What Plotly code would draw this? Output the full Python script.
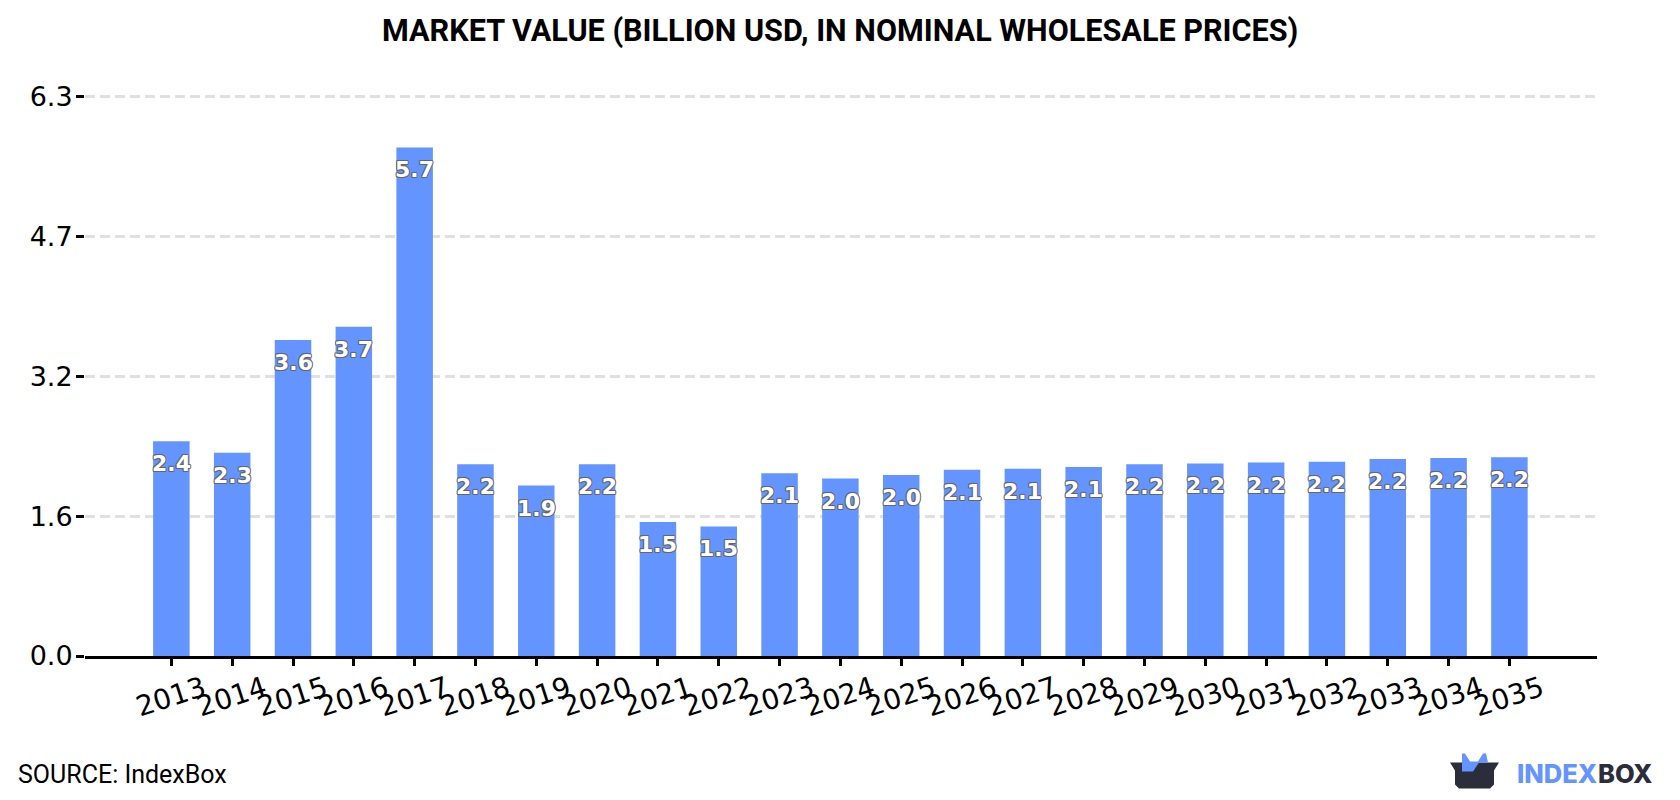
import plotly.graph_objects as go

# Market value series, billion USD
years = [2013, 2014, 2015, 2016, 2017, 2018, 2019, 2020, 2021, 2022, 2023, 2024,
         2025, 2026, 2027, 2028, 2029, 2030, 2031, 2032, 2033, 2034, 2035]
values = [2.42, 2.29, 3.56, 3.71, 5.73, 2.16, 1.92, 2.16, 1.51, 1.46, 2.06, 2.00,
          2.04, 2.10, 2.11, 2.13, 2.16, 2.17, 2.18, 2.19, 2.22, 2.23, 2.24]
y_tick_values = [0, 1.575, 3.15, 4.725, 6.3]
y_tick_labels = ["0.0", "1.6", "3.2", "4.7", "6.3"]

TITLE = "MARKET VALUE (BILLION USD, IN NOMINAL WHOLESALE PRICES)"
SOURCE = "SOURCE: IndexBox"
BLUE = "#6394ff"
DARK = "#2b2d3a"

W, H = 1680, 800
Y_MAX = 6.4
LEFT, RIGHT, BOTTOM = 85, 1597, 656.4
TOP = BOTTOM - Y_MAX * 560 / 6.3


def px(x):
    return (x - LEFT) / (RIGHT - LEFT)


def py(y):
    return (BOTTOM - y) / (BOTTOM - TOP)


def path(points):
    return "M " + " L ".join(f"{px(x):.5f},{py(y):.5f}" for x, y in points) + " Z"


fig = go.Figure(
    go.Bar(x=years, y=values, width=0.6, marker=dict(color=BLUE, line=dict(width=0)), hoverinfo="skip")
)

# Value labels sit just inside the top of each bar, white with a grey outline
outline = ("1px 0 #666, -1px 0 #666, 0 1px #666, 0 -1px #666, "
           "0.7px 0.7px #666, -0.7px -0.7px #666, 0.7px -0.7px #666, -0.7px 0.7px #666")
annotations = [
    dict(
        x=yr, y=v, xref="x", yref="y", text=f"{v:.1f}", showarrow=False,
        yanchor="middle", yshift=-22.5,
        font=dict(family="DejaVu Sans", size=22, color="white", weight="bold", shadow=outline),
    )
    for yr, v in zip(years, values)
]

annotations += [
    dict(xref="paper", yref="paper", x=px(840), y=py(30), text=TITLE, showarrow=False,
         xanchor="center", yanchor="middle",
         font=dict(family="Roboto", size=30.6, color="black", weight="bold")),
    dict(xref="paper", yref="paper", x=px(16), y=py(775), text=SOURCE, showarrow=False,
         xanchor="left", yanchor="middle",
         font=dict(family="Roboto", size=25, color="black")),
    dict(xref="paper", yref="paper", x=px(1515), y=py(774), text="INDEX", showarrow=False,
         xanchor="left", yanchor="middle",
         font=dict(family="Inter", size=25.5, color=BLUE, weight=800)),
    dict(xref="paper", yref="paper", x=px(1596), y=py(774), text="BOX", showarrow=False,
         xanchor="left", yanchor="middle",
         font=dict(family="Inter", size=25.5, color=DARK, weight=800)),
]

# Box-shaped logo mark beside the wordmark
box = [(1450, 763), (1499, 763), (1494, 771), (1494, 785), (1490, 789), (1459, 789), (1455, 785), (1455, 771)]
ears = [(1462, 772), (1462, 754), (1465, 754), (1470, 762), (1478, 762), (1483, 754), (1486, 754), (1488, 763), (1479, 763), (1473, 772)]
shapes = [
    dict(type="path", xref="paper", yref="paper", path=path(box), fillcolor=DARK, line=dict(width=0)),
    dict(type="path", xref="paper", yref="paper", path=path(ears), fillcolor=BLUE, line=dict(width=0)),
]

fig.update_layout(
    width=W, height=H,
    margin=dict(l=LEFT, r=W - RIGHT, t=TOP, b=H - BOTTOM, autoexpand=False),
    paper_bgcolor="white", plot_bgcolor="white",
    showlegend=False, hovermode=False,
    annotations=annotations, shapes=shapes,
    xaxis=dict(
        range=[2013 - 1.42, 2035 + 1.44], tickmode="array", tickvals=years,
        ticktext=[str(y) for y in years], tickangle=-18, ticklabelshift=32,
        ticklabelstandoff=-4,
        ticks="outside", ticklen=7, tickwidth=2.5, tickcolor="black",
        showline=True, linecolor="black", linewidth=2.5, showgrid=False, zeroline=False,
        tickfont=dict(family="DejaVu Sans", size=28, color="black"),
    ),
    yaxis=dict(
        range=[0, Y_MAX], tickmode="array", tickvals=y_tick_values, ticktext=y_tick_labels,
        ticklabelstandoff=-2,
        ticks="outside", ticklen=8, tickwidth=2.5, tickcolor="black",
        showline=False, zeroline=False, showgrid=True,
        gridcolor="#e0e0e0", gridwidth=2.5, griddash="10px,5px",
        tickfont=dict(family="DejaVu Sans", size=27, color="black"),
    ),
)

fig.write_html("out.html", config=dict(displayModeBar=False))
